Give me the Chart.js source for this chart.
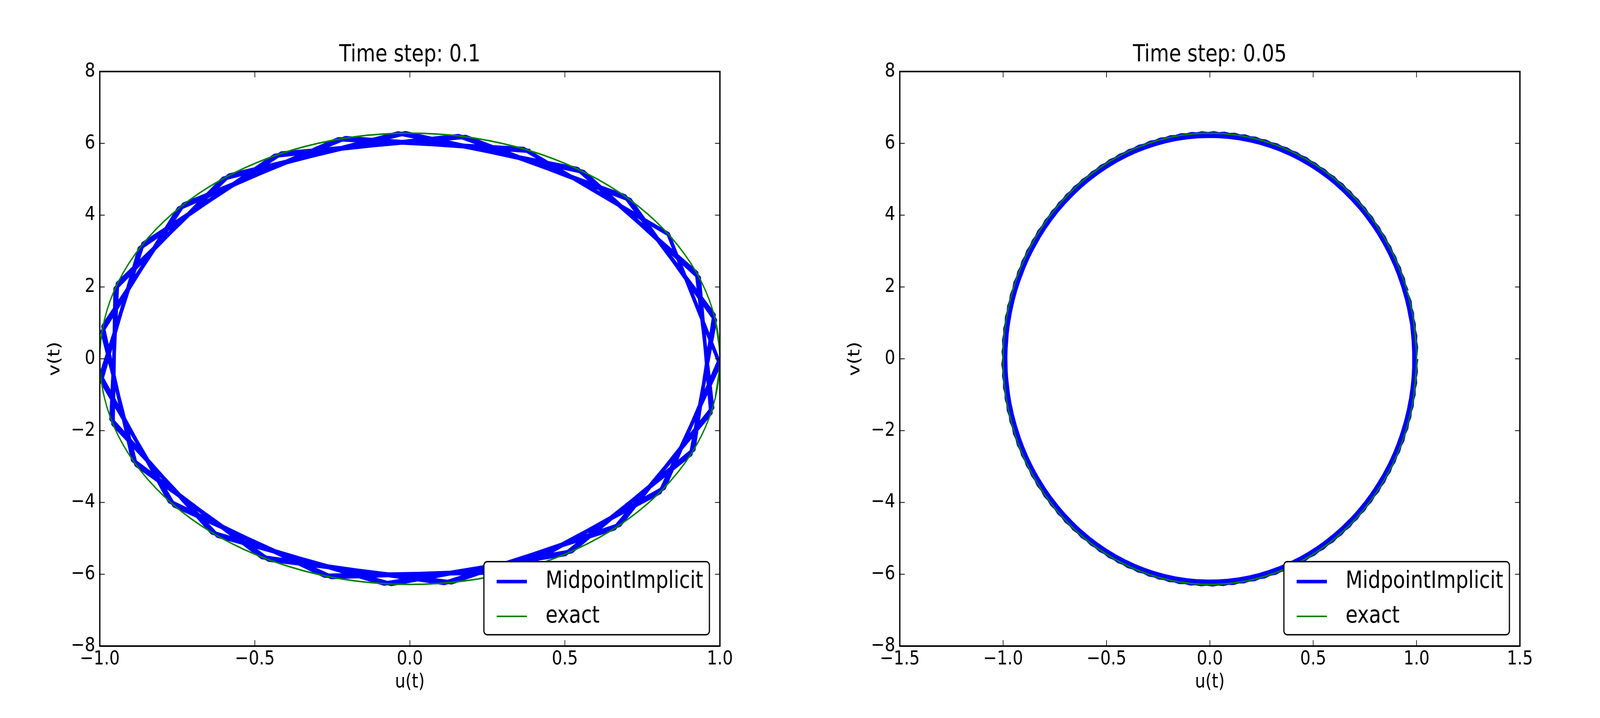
<!DOCTYPE html>
<html lang="en">
<head>
<meta charset="UTF-8">
<title>MidpointImplicit vs exact</title>
<script src="https://cdn.jsdelivr.net/npm/chart.js"></script>
<style>
  html, body { margin: 0; padding: 0; background: #ffffff; overflow: hidden; }
  canvas { position: absolute; top: 0; width: 50vw; height: 100vh; }
</style>
</head>
<body>
<!-- bitmap is sized in screenshot pixels, css stretches it over half the window -->
<canvas id="chart1" width="2437" height="1837" style="left:0;width:50vw;height:100vh"></canvas>
<canvas id="chart2" width="2437" height="1837" style="left:50vw;width:50vw;height:100vh"></canvas>
<script>
// values
const titles = ["Time step: 0.1", "Time step: 0.05"];
const seriesNames = ["MidpointImplicit", "exact"];
const yTicks = [-8, -6, -4, -2, 0, 2, 4, 6, 8];
const xTicksLeft = [-1.0, -0.5, 0.0, 0.5, 1.0];
const xTicksRight = [-1.5, -1.0, -0.5, 0.0, 0.5, 1.0, 1.5];

// exact solution, the green ellipse
const exactU = [0.985, 1, 0.985, 0.940, 0.866, 0.766, 0.643, 0.5, 0.342, 0.174, 0, -0.174, -0.342, -0.5, -0.643, -0.766, -0.866, -0.940, -0.985,
  -1, -0.985, -0.940, -0.866, -0.766, -0.643, -0.5, -0.342, -0.174, 0, 0.174, 0.342, 0.5, 0.643, 0.766, 0.866, 0.940, 0.985, 1, 0.985];
const exactV = [1.091, 0, -1.091, -2.149, -3.142, -4.039, -4.813, -5.441, -5.904, -6.188, -6.283, -6.188, -5.904, -5.441, -4.813, -4.039, -3.142, -2.149, -1.091,
  0, 1.091, 2.149, 3.142, 4.039, 4.813, 5.441, 5.904, 6.188, 6.283, 6.188, 5.904, 5.441, 4.813, 4.039, 3.142, 2.149, 1.091, 0, -1.091];

// MidpointImplicit, dt = 0.1
const midU1 = [1, 0.8203, 0.3459, -0.2528, -0.7607, -0.9953, -0.8722, -0.4357, 0.1573, 0.6938,
  0.9810, 0.9157, 0.5214, -0.0603, -0.6203, -0.9574, -0.9505, -0.6021, -0.0373, 0.5409,
  0.9247, 0.9763, 0.6771, 0.1345, -0.4563, -0.8832, -0.9927, -0.7456, -0.2305, 0.3674,
  0.8333, 0.9997, 0.8070, 0.3242, -0.2750, -0.7754, -0.9972, -0.8607, -0.4149, 0.1800,
  0.7102, 0.9852, 0.9062, 0.5016, -0.0832, -0.6382, -0.9638, -0.9432, -0.5836, -0.0143,
  0.5601, 0.9332, 0.9710, 0.6600, 0.1117, -0.4767, -0.8938, -0.9897, -0.7300, -0.2081, 0.3887];
const midV1 = [0, -3.593, -5.895, -6.079, -4.079, -0.613, 3.074, 5.655, 6.205, 4.525,
  1.219, -2.525, -5.362, -6.272, -4.928, -1.814, 1.952, 5.017, 6.279, 5.285,
  2.392, -1.361, -4.624, -6.226, -5.591, -2.947, 0.756, 4.187, 6.114, 5.844,
  3.474, -0.144, -3.711, -5.944, -6.041, -3.968, -0.469, 3.199, 5.717, 6.181,
  4.424, 1.077, -2.656, -5.436, -6.261, -4.838, -1.676, 2.089, 5.102, 6.283,
  5.205, 2.258, -1.501, -4.721, -6.244, -5.524, -2.819, 0.899, 4.294, 6.146, 5.789];

// MidpointImplicit, dt = 0.05
const midU2 = [1, 0.952, 0.812, 0.594, 0.319, 0.013, -0.294, -0.573, -0.797, -0.944, -1.000, -0.959, -0.827, -0.614, -0.343, -0.038, 0.270, 0.552, 0.781, 0.935,
  0.999, 0.966, 0.841, 0.634, 0.367, 0.064, -0.245, -0.531, -0.765, -0.926, -0.997, -0.972, -0.854, -0.654, -0.390, -0.089, 0.221, 0.509, 0.748, 0.916,
  0.995, 0.978, 0.867, 0.673, 0.413, 0.114, -0.196, -0.487, -0.731, -0.905, -0.992, -0.983, -0.880, -0.691, -0.436, -0.140, 0.171, 0.465, 0.714, 0.894,
  0.988, 0.987, 0.891, 0.709, 0.459, 0.165, -0.146, -0.442, -0.696, -0.882, -0.984, -0.991, -0.903, -0.727, -0.482, -0.190, 0.120, 0.419, 0.677, 0.870,
  0.979, 0.994, 0.913, 0.744, 0.504, 0.215, -0.095, -0.396, -0.658, -0.857, -0.974, -0.997, -0.923, -0.761, -0.526, -0.240, 0.070, 0.372, 0.639, 0.844,
  0.968, 0.998, 0.933, 0.777, 0.547, 0.264, -0.044, -0.348, -0.619, -0.830, -0.961, -0.999, -0.942, -0.793, -0.568, -0.289, 0.019, 0.324, 0.599, 0.815,
  0.954];
const midV2 = [0, -1.926, -3.667, -5.055, -5.955, -6.283, -6.005, -5.148, -3.796, -2.078, -0.160, 1.773, 3.536, 4.958, 5.903, 6.278, 6.050, 5.238, 3.922, 2.228,
  0.320, -1.619, -3.403, -4.858, -5.846, -6.270, -6.091, -5.325, -4.046, -2.377, -0.480, 1.464, 3.267, 4.755, 5.785, 6.258, 6.128, 5.408, 4.167, 2.524,
  0.639, -1.308, -3.129, -4.649, -5.721, -6.242, -6.161, -5.488, -4.285, -2.670, -0.798, 1.151, 2.990, 4.540, 5.653, 6.222, 6.191, 5.564, 4.401, 2.814,
  0.956, -0.994, -2.848, -4.428, -5.581, -6.197, -6.216, -5.636, -4.514, -2.956, -1.114, 0.835, 2.704, 4.313, 5.506, 6.169, 6.237, 5.705, 4.623, 3.096,
  1.271, -0.677, -2.559, -4.195, -5.427, -6.136, -6.255, -5.770, -4.730, -3.235, -1.427, 0.517, 2.412, 4.075, 5.345, 6.100, 6.268, 5.832, 4.834, 3.371,
  1.583, -0.358, -2.264, -3.952, -5.259, -6.060, -6.277, -5.889, -4.935, -3.505, -1.737, 0.198, 2.114, 3.826, 5.170, 6.016, 6.282, 5.943, 5.032, 3.636,
  1.890];

const BLUE = "#0000ff";
const GREEN = "#008000";
const FONT = '"DejaVu Sans"';

function toPoints(us, vs) {
  return us.map((u, i) => ({ x: u, y: vs[i] }));
}

// matplotlib style minus sign
function fmt(v, digits) {
  const s = Math.abs(v).toFixed(digits);
  return v < 0 ? "\u2212" + s : s;
}

// box, inward ticks and legend
const framePlugin = {
  id: "frame",
  afterDatasetsDraw(chart) {
    const { ctx, chartArea: a, scales: { x, y } } = chart;
    const tick = 15;
    ctx.save();
    ctx.strokeStyle = "#000";
    ctx.lineWidth = 2;
    ctx.beginPath();
    x.ticks.forEach(t => {
      const px = x.getPixelForValue(t.value);
      ctx.moveTo(px, a.bottom); ctx.lineTo(px, a.bottom - tick);
      ctx.moveTo(px, a.top); ctx.lineTo(px, a.top + tick);
    });
    y.ticks.forEach(t => {
      const py = y.getPixelForValue(t.value);
      ctx.moveTo(a.left, py); ctx.lineTo(a.left + tick, py);
      ctx.moveTo(a.right, py); ctx.lineTo(a.right - tick, py);
    });
    ctx.stroke();
    ctx.lineWidth = 4;
    ctx.strokeRect(a.left, a.top, a.right - a.left, a.bottom - a.top);

    // legend, lower right
    const w = 687, h = 187, r = 10;
    const bx = a.right - 32 - w, by = a.bottom - 29 - h;
    ctx.beginPath();
    ctx.moveTo(bx + r, by);
    ctx.arcTo(bx + w, by, bx + w, by + h, r);
    ctx.arcTo(bx + w, by + h, bx, by + h, r);
    ctx.arcTo(bx, by + h, bx, by, r);
    ctx.arcTo(bx, by, bx + w, by, r);
    ctx.closePath();
    ctx.fillStyle = "#fff";
    ctx.fill();
    ctx.lineWidth = 3.5;
    ctx.stroke();
    const rows = [
      { name: seriesNames[0], color: BLUE, width: 9, y: by + 51 },
      { name: seriesNames[1], color: GREEN, width: 4, y: by + 140 }
    ];
    ctx.font = "60px " + FONT;
    ctx.textBaseline = "middle";
    ctx.textAlign = "left";
    rows.forEach(row => {
      ctx.strokeStyle = row.color;
      ctx.lineWidth = row.width;
      ctx.beginPath();
      ctx.moveTo(bx + 39, row.y);
      ctx.lineTo(bx + 131, row.y);
      ctx.stroke();
      ctx.fillStyle = "#000";
      ctx.fillText(row.name, bx + 188, row.y);
    });
    ctx.restore();
  }
};

function makePanel(canvasId, title, xTicks, midU, midV) {
  const ctx = document.getElementById(canvasId).getContext("2d");
  return new Chart(ctx, {
    type: "scatter",
    data: {
      datasets: [
        {
          label: seriesNames[1],
          data: toPoints(exactU, exactV),
          showLine: true,
          borderColor: GREEN,
          borderWidth: 4,
          tension: 0.33,
          pointRadius: 0,
          borderJoinStyle: "round",
          clip: 0
        },
        {
          label: seriesNames[0],
          data: toPoints(midU, midV),
          showLine: true,
          borderColor: BLUE,
          borderWidth: 11,
          tension: 0,
          pointRadius: 0,
          borderJoinStyle: "round",
          clip: 0
        }
      ]
    },
    options: {
      responsive: false,
      animation: false,
      devicePixelRatio: 1,
      events: [],
      layout: { padding: { left: 0, right: 244, top: 0, bottom: 0 } },
      plugins: {
        legend: { display: false },
        tooltip: { enabled: false },
        title: {
          display: true,
          text: title,
          fullSize: false,
          color: "#000",
          font: { family: FONT, size: 60, weight: "normal" },
          padding: { top: 105, bottom: 6 }
        }
      },
      scales: {
        x: {
          type: "linear",
          min: xTicks[0],
          max: xTicks[xTicks.length - 1],
          grid: { display: false, drawTicks: false },
          border: { display: false },
          afterBuildTicks: s => { s.ticks = xTicks.map(v => ({ value: v })); },
          afterFit: s => { s.height = 184; },
          ticks: {
            autoSkip: false,
            maxRotation: 0,
            padding: 4,
            color: "#000",
            font: { family: FONT, size: 50 },
            callback: v => fmt(v, 1)
          },
          title: {
            display: true,
            text: "u(t)",
            color: "#000",
            font: { family: FONT, size: 50 },
            padding: { top: 0, bottom: 61 }
          }
        },
        y: {
          type: "linear",
          min: yTicks[0],
          max: yTicks[yTicks.length - 1],
          grid: { display: false, drawTicks: false },
          border: { display: false },
          afterBuildTicks: s => { s.ticks = yTicks.map(v => ({ value: v })); },
          afterFit: s => { s.width = 304; },
          ticks: {
            autoSkip: false,
            padding: 14,
            color: "#000",
            font: { family: FONT, size: 50 },
            callback: v => fmt(v, 0)
          },
          title: {
            display: true,
            text: "v(t)",
            color: "#000",
            font: { family: FONT, size: 50 },
            padding: { top: 138, bottom: 0 }
          }
        }
      }
    },
    plugins: [framePlugin]
  });
}

makePanel("chart1", titles[0], xTicksLeft, midU1, midV1);
makePanel("chart2", titles[1], xTicksRight, midU2, midV2);
</script>
</body>
</html>
